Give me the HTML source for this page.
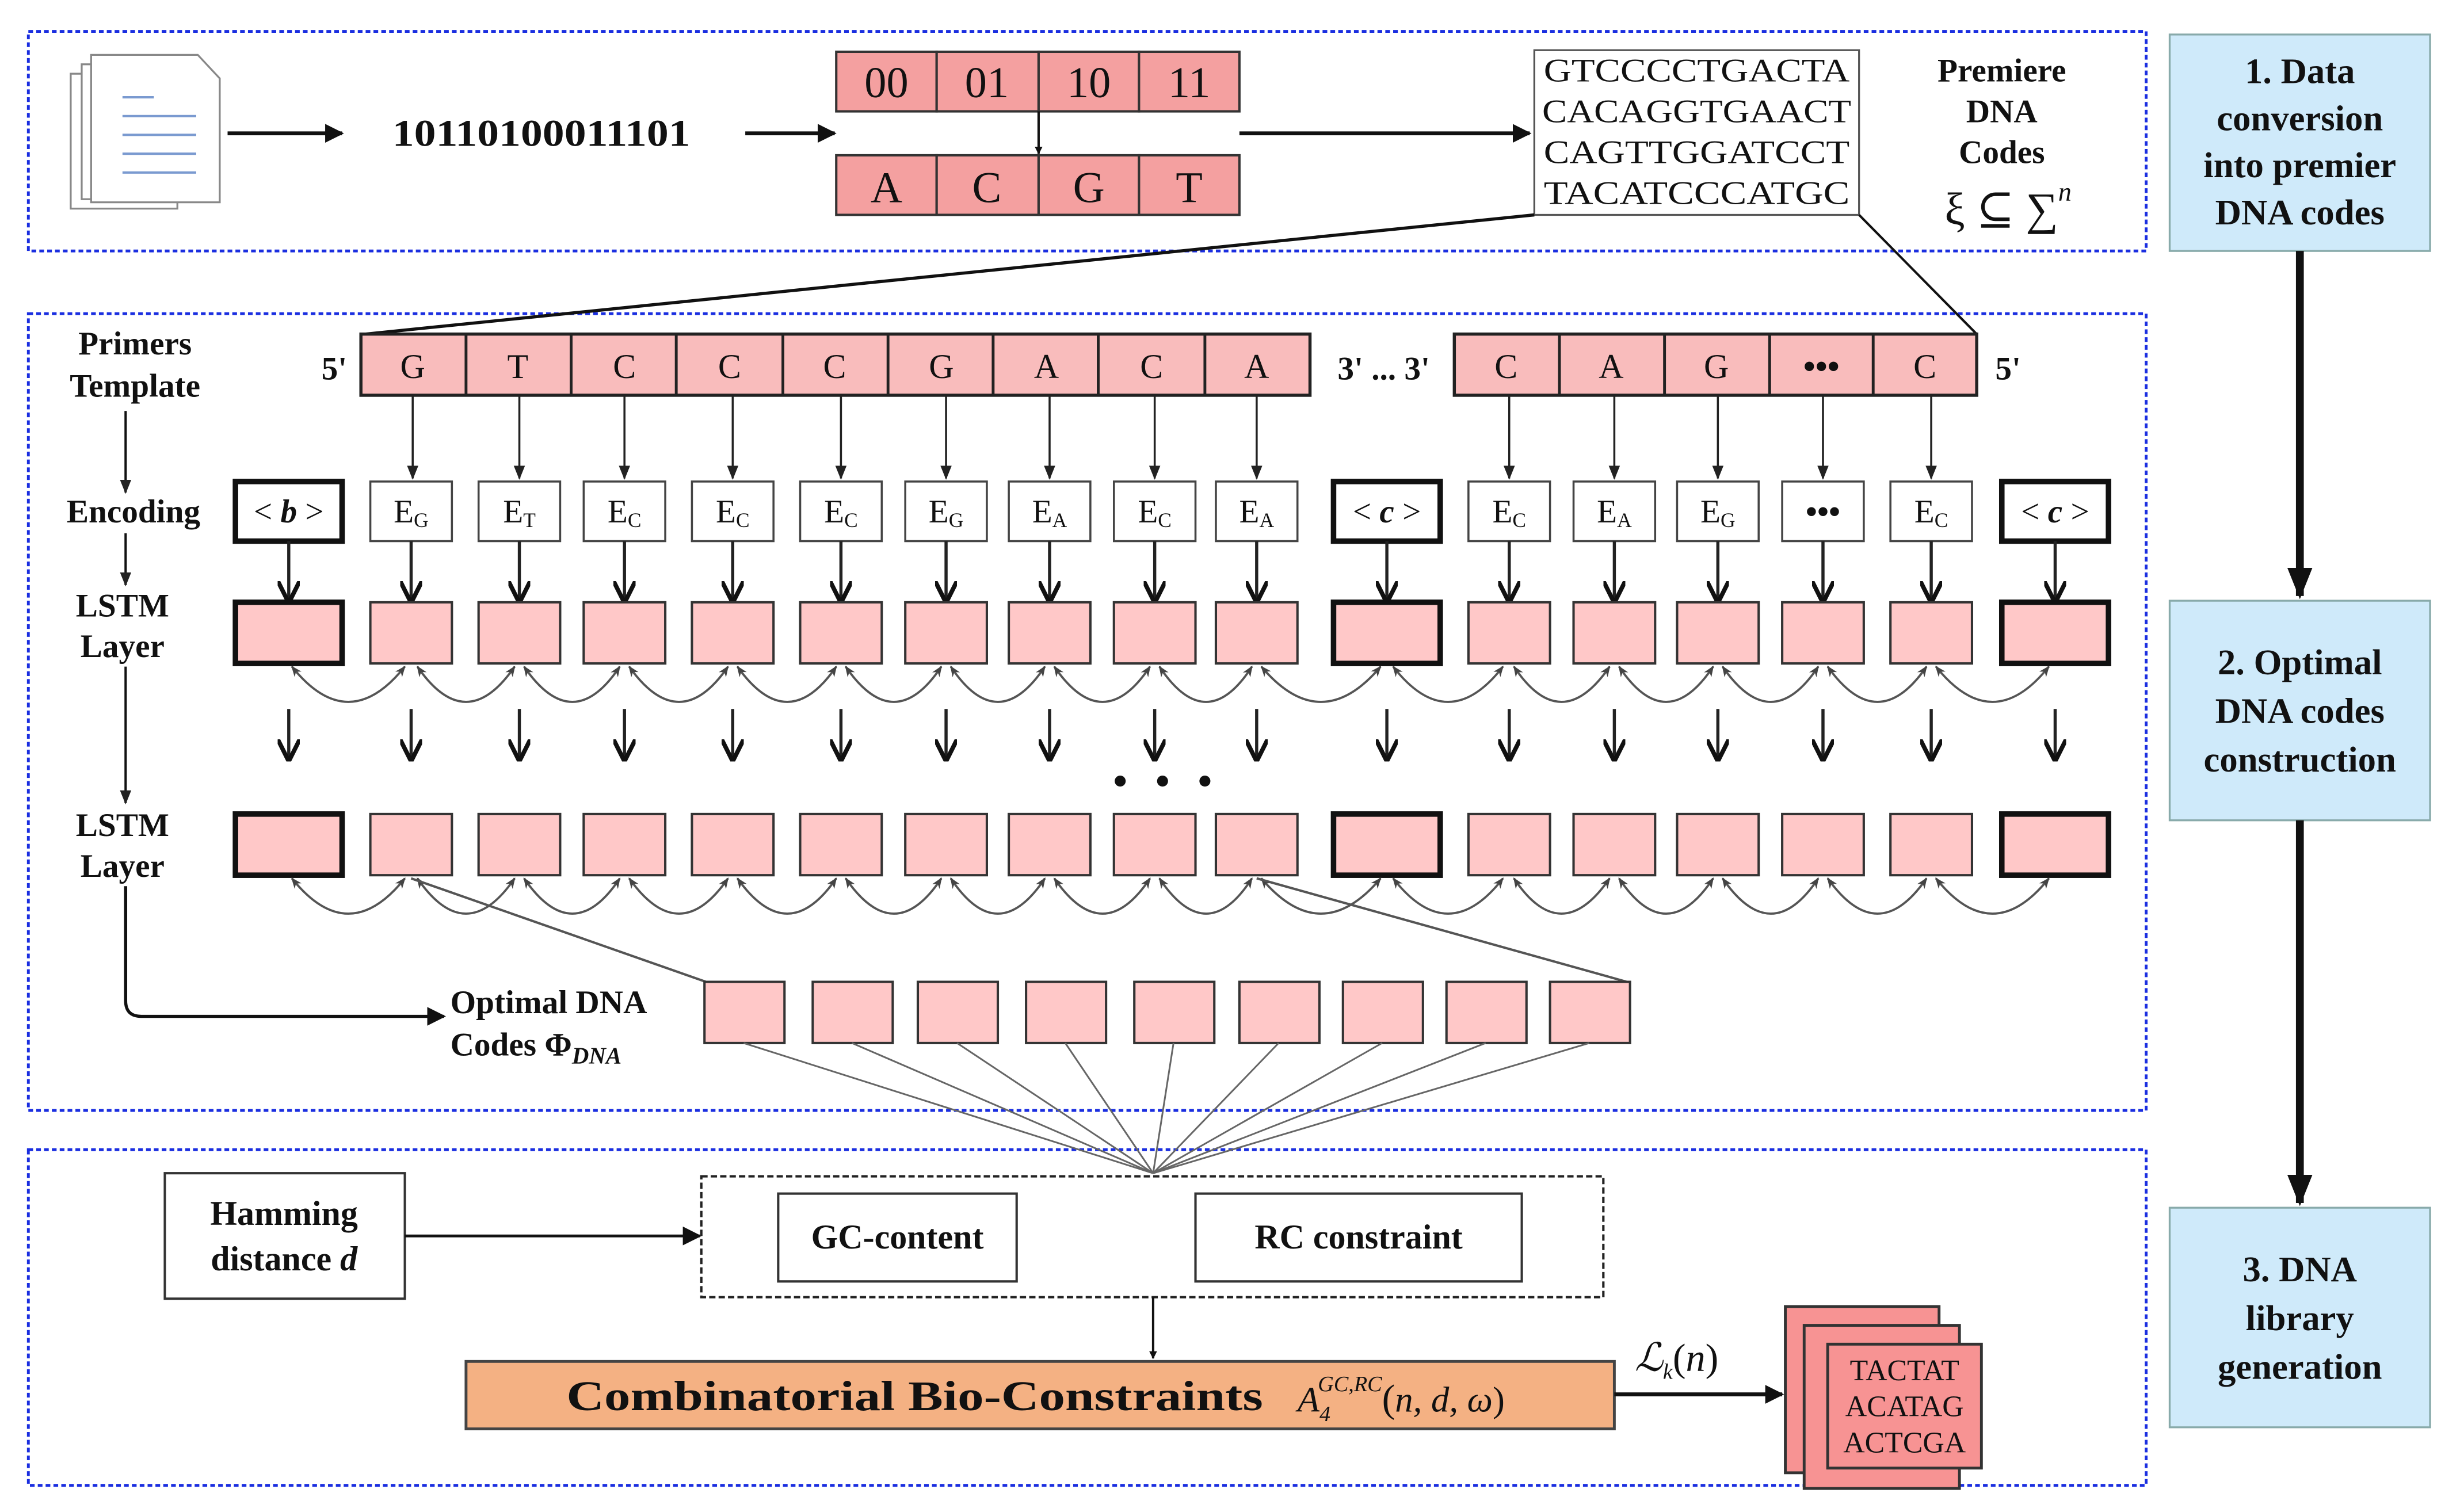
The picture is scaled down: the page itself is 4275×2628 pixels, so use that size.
<!DOCTYPE html>
<html><head><meta charset="utf-8"><style>
html,body{margin:0;padding:0;background:#fff}
svg{display:block}
svg text{font-family:"Liberation Serif","DejaVu Serif",serif;fill:#111}
.b{font-weight:bold}
</style></head><body>
<svg width="4275" height="2628" viewBox="0 0 1568 964" xmlns="http://www.w3.org/2000/svg" font-family="Liberation Serif, DejaVu Serif, serif">
<defs>
<marker id="ah" viewBox="0 0 10 10" refX="9" refY="5" markerWidth="5" markerHeight="5" orient="auto-start-reverse" markerUnits="userSpaceOnUse"><path d="M0,0L10,5L0,10z" fill="#111"/></marker>
<marker id="ahb" viewBox="0 0 10 10" refX="9" refY="5" markerWidth="12" markerHeight="12" orient="auto" markerUnits="userSpaceOnUse"><path d="M0,0L10,5L0,10z" fill="#111"/></marker>
<marker id="ahv" viewBox="0 0 10 10" refX="9" refY="5" markerWidth="9" markerHeight="9" orient="auto" markerUnits="userSpaceOnUse"><path d="M0,1L10,5L0,9z" fill="#222"/></marker>
<marker id="ahc" viewBox="0 0 10 10" refX="9" refY="5" markerWidth="7" markerHeight="7" orient="auto-start-reverse" markerUnits="userSpaceOnUse"><path d="M0,1L10,5L0,9L3,5z" fill="#444"/></marker>
<marker id="ahd" viewBox="0 0 10 10" refX="9" refY="5" markerWidth="14" markerHeight="14" orient="auto" markerUnits="userSpaceOnUse"><path d="M0,0L10,5L0,10" fill="none" stroke="#111" stroke-width="2"/></marker>
<marker id="ahr" viewBox="0 0 10 10" refX="9" refY="5" markerWidth="20" markerHeight="20" orient="auto" markerUnits="userSpaceOnUse"><path d="M0,1L10,5L0,9z" fill="#111"/></marker>
</defs>

<g fill="none" stroke="#1a2ee0" stroke-width="1.8" stroke-dasharray="3,2">
<rect x="18" y="20" width="1350" height="140"/>
<rect x="18" y="200" width="1350" height="508"/>
<rect x="18" y="733" width="1350" height="214"/>
</g>

<g fill="#cfeafa" stroke="#8aa" stroke-width="1.2">
<rect x="1383" y="22" width="166" height="138"/>
<rect x="1383" y="383" width="166" height="140"/>
<rect x="1383" y="770" width="166" height="140"/>
</g>
<g font-size="23" text-anchor="middle">
<text x="1466" y="53" class="b">1. Data</text>
<text x="1466" y="83" class="b">conversion</text>
<text x="1466" y="113" class="b">into premier</text>
<text x="1466" y="143" class="b">DNA codes</text>
<text x="1466" y="430" class="b">2. Optimal</text>
<text x="1466" y="461" class="b">DNA codes</text>
<text x="1466" y="492" class="b">construction</text>
<text x="1466" y="817" class="b">3. DNA</text>
<text x="1466" y="848" class="b">library</text>
<text x="1466" y="879" class="b">generation</text>
</g>
<line x1="1466" y1="160" x2="1466" y2="380" stroke="#111" stroke-width="5" marker-end="url(#ahr)"/>
<line x1="1466" y1="523" x2="1466" y2="767" stroke="#111" stroke-width="5" marker-end="url(#ahr)"/>

<g fill="#fff" stroke="#888" stroke-width="1.2">
<rect x="45" y="47" width="68" height="86"/>
<rect x="52" y="41" width="69" height="86"/>
<path d="M58,35 H126 L140,50 V129 H58 Z"/>
</g>
<g stroke="#7a9ad0" stroke-width="1.5">
<line x1="78" y1="62" x2="98" y2="62"/><line x1="78" y1="74" x2="125" y2="74"/>
<line x1="78" y1="86" x2="125" y2="86"/><line x1="78" y1="98" x2="125" y2="98"/><line x1="78" y1="110" x2="125" y2="110"/>
</g>
<line x1="145" y1="85" x2="218" y2="85" stroke="#111" stroke-width="2.5" marker-end="url(#ahb)"/>
<text x="250" y="93" font-size="24" class="b" textLength="190" lengthAdjust="spacingAndGlyphs">10110100011101</text>
<line x1="475" y1="85" x2="532" y2="85" stroke="#111" stroke-width="2.5" marker-end="url(#ahb)"/>

<g fill="#f4a0a0" stroke="#333" stroke-width="1.5">
<rect x="533" y="33" width="64" height="38"/><rect x="597" y="33" width="65" height="38"/><rect x="662" y="33" width="64" height="38"/><rect x="726" y="33" width="64" height="38"/>
<rect x="533" y="99" width="64" height="38"/><rect x="597" y="99" width="65" height="38"/><rect x="662" y="99" width="64" height="38"/><rect x="726" y="99" width="64" height="38"/>
</g>
<g font-size="28" text-anchor="middle">
<text x="565" y="62">00</text><text x="629" y="62">01</text><text x="694" y="62">10</text><text x="758" y="62">11</text>
<text x="565" y="129">A</text><text x="629" y="129">C</text><text x="694" y="129">G</text><text x="758" y="129">T</text>
</g>
<line x1="662" y1="71" x2="662" y2="98" stroke="#111" stroke-width="1.5" marker-end="url(#ah)"/>
<line x1="790" y1="85" x2="975" y2="85" stroke="#111" stroke-width="2.5" marker-end="url(#ahb)"/>

<rect x="978" y="32" width="207" height="105" fill="#fff" stroke="#555" stroke-width="1.2"/>
<g font-size="21">
<text x="984" y="52" textLength="195" lengthAdjust="spacingAndGlyphs">GTCCCCTGACTA</text>
<text x="983" y="78" textLength="197" lengthAdjust="spacingAndGlyphs">CACAGGTGAACT</text>
<text x="984" y="104" textLength="195" lengthAdjust="spacingAndGlyphs">CAGTTGGATCCT</text>
<text x="984" y="130" textLength="195" lengthAdjust="spacingAndGlyphs">TACATCCCATGC</text>
</g>
<g font-size="21" text-anchor="middle">
<text x="1276" y="52" class="b">Premiere</text>
<text x="1276" y="78" class="b">DNA</text>
<text x="1276" y="104" class="b">Codes</text>
<text x="1280" y="143" font-size="29">ξ ⊆ ∑<tspan font-size="17" dy="-15" font-style="italic">n</tspan></text>
</g>
<line x1="978" y1="137" x2="233" y2="213" stroke="#111" stroke-width="2"/>
<line x1="1185" y1="137" x2="1260" y2="213" stroke="#111" stroke-width="1.5"/>

<text x="86" y="226" font-size="21" class="b" text-anchor="middle">Primers</text>
<text x="86" y="253" font-size="21" class="b" text-anchor="middle">Template</text>
<text x="213" y="242" font-size="21" class="b" text-anchor="middle">5'</text>
<text x="882" y="242" font-size="21" class="b" text-anchor="middle">3' ... 3'</text>
<text x="1280" y="242" font-size="21" class="b" text-anchor="middle">5'</text>

<g fill="#f9bcbc" stroke="#222" stroke-width="2">
<rect x="230" y="213" width="605" height="39"/>
<rect x="927" y="213" width="333" height="39"/>
</g>
<g stroke="#222" stroke-width="1.8">
<line x1="297" y1="213" x2="297" y2="252"/><line x1="364" y1="213" x2="364" y2="252"/><line x1="431" y1="213" x2="431" y2="252"/><line x1="499" y1="213" x2="499" y2="252"/><line x1="566" y1="213" x2="566" y2="252"/><line x1="633" y1="213" x2="633" y2="252"/><line x1="700" y1="213" x2="700" y2="252"/><line x1="768" y1="213" x2="768" y2="252"/>
<line x1="994" y1="213" x2="994" y2="252"/><line x1="1061" y1="213" x2="1061" y2="252"/><line x1="1128" y1="213" x2="1128" y2="252"/><line x1="1194" y1="213" x2="1194" y2="252"/>
</g>
<g font-size="22" text-anchor="middle">
<text x="263" y="241">G</text><text x="330" y="241">T</text><text x="398" y="241">C</text><text x="465" y="241">C</text><text x="532" y="241">C</text><text x="600" y="241">G</text><text x="667" y="241">A</text><text x="734" y="241">C</text><text x="801" y="241">A</text>
<text x="960" y="241">C</text><text x="1027" y="241">A</text><text x="1094" y="241">G</text><text x="1161" y="241" class="b">•••</text><text x="1227" y="241">C</text>
</g>

<g stroke="#222" stroke-width="1.3" marker-end="url(#ahv)">
<line x1="263" y1="252" x2="263" y2="305"/><line x1="331" y1="252" x2="331" y2="305"/><line x1="398" y1="252" x2="398" y2="305"/><line x1="467" y1="252" x2="467" y2="305"/><line x1="536" y1="252" x2="536" y2="305"/><line x1="603" y1="252" x2="603" y2="305"/><line x1="669" y1="252" x2="669" y2="305"/><line x1="736" y1="252" x2="736" y2="305"/><line x1="801" y1="252" x2="801" y2="305"/>
<line x1="962" y1="252" x2="962" y2="305"/><line x1="1029" y1="252" x2="1029" y2="305"/><line x1="1095" y1="252" x2="1095" y2="305"/><line x1="1162" y1="252" x2="1162" y2="305"/><line x1="1231" y1="252" x2="1231" y2="305"/>
</g>

<g fill="#fff" stroke="#111" stroke-width="3.5">
<rect x="150" y="307" width="68" height="38"/><rect x="850" y="307" width="68" height="38"/><rect x="1276" y="307" width="68" height="38"/>
</g>
<g fill="#fff" stroke="#444" stroke-width="1.3">
<rect x="236" y="307" width="52" height="38"/><rect x="305" y="307" width="52" height="38"/><rect x="372" y="307" width="52" height="38"/><rect x="441" y="307" width="52" height="38"/><rect x="510" y="307" width="52" height="38"/><rect x="577" y="307" width="52" height="38"/><rect x="643" y="307" width="52" height="38"/><rect x="710" y="307" width="52" height="38"/><rect x="775" y="307" width="52" height="38"/>
<rect x="936" y="307" width="52" height="38"/><rect x="1003" y="307" width="52" height="38"/><rect x="1069" y="307" width="52" height="38"/><rect x="1136" y="307" width="52" height="38"/><rect x="1205" y="307" width="52" height="38"/>
</g>
<g font-size="21" text-anchor="middle">
<text x="184" y="333">&lt; <tspan font-style="italic" class="b">b</tspan> &gt;</text>
<text x="884" y="333">&lt; <tspan font-style="italic" class="b">c</tspan> &gt;</text>
<text x="1310" y="333">&lt; <tspan font-style="italic" class="b">c</tspan> &gt;</text>
<text x="262" y="333">E<tspan font-size="13" dy="3">G</tspan></text>
<text x="331" y="333">E<tspan font-size="13" dy="3">T</tspan></text>
<text x="398" y="333">E<tspan font-size="13" dy="3">C</tspan></text>
<text x="467" y="333">E<tspan font-size="13" dy="3">C</tspan></text>
<text x="536" y="333">E<tspan font-size="13" dy="3">C</tspan></text>
<text x="603" y="333">E<tspan font-size="13" dy="3">G</tspan></text>
<text x="669" y="333">E<tspan font-size="13" dy="3">A</tspan></text>
<text x="736" y="333">E<tspan font-size="13" dy="3">C</tspan></text>
<text x="801" y="333">E<tspan font-size="13" dy="3">A</tspan></text>
<text x="962" y="333">E<tspan font-size="13" dy="3">C</tspan></text>
<text x="1029" y="333">E<tspan font-size="13" dy="3">A</tspan></text>
<text x="1095" y="333">E<tspan font-size="13" dy="3">G</tspan></text>
<text x="1162" y="333" class="b">•••</text>
<text x="1231" y="333">E<tspan font-size="13" dy="3">C</tspan></text>
</g>
<text x="85" y="333" font-size="21" class="b" text-anchor="middle">Encoding</text>
<text x="78" y="393" font-size="21" class="b" text-anchor="middle">LSTM</text>
<text x="78" y="419" font-size="21" class="b" text-anchor="middle">Layer</text>
<text x="78" y="533" font-size="21" class="b" text-anchor="middle">LSTM</text>
<text x="78" y="559" font-size="21" class="b" text-anchor="middle">Layer</text>
<g stroke="#111" stroke-width="1.5" marker-end="url(#ahv)">
<line x1="80" y1="262" x2="80" y2="314"/>
<line x1="80" y1="340" x2="80" y2="373"/>
<line x1="80" y1="425" x2="80" y2="512"/>
</g>
<path d="M80,565 V638 Q80,648 90,648 H283" fill="none" stroke="#111" stroke-width="2" marker-end="url(#ahb)"/>

<g stroke="#222" stroke-width="2" marker-end="url(#ahd)">
<line x1="184" y1="345" x2="184" y2="383"/><line x1="262" y1="345" x2="262" y2="383"/><line x1="331" y1="345" x2="331" y2="383"/><line x1="398" y1="345" x2="398" y2="383"/><line x1="467" y1="345" x2="467" y2="383"/><line x1="536" y1="345" x2="536" y2="383"/><line x1="603" y1="345" x2="603" y2="383"/><line x1="669" y1="345" x2="669" y2="383"/><line x1="736" y1="345" x2="736" y2="383"/><line x1="801" y1="345" x2="801" y2="383"/><line x1="884" y1="345" x2="884" y2="383"/><line x1="962" y1="345" x2="962" y2="383"/><line x1="1029" y1="345" x2="1029" y2="383"/><line x1="1095" y1="345" x2="1095" y2="383"/><line x1="1162" y1="345" x2="1162" y2="383"/><line x1="1231" y1="345" x2="1231" y2="383"/><line x1="1310" y1="345" x2="1310" y2="383"/>
</g>
<g stroke="#222" stroke-width="2" marker-end="url(#ahd)">
<line x1="184" y1="452" x2="184" y2="484"/><line x1="262" y1="452" x2="262" y2="484"/><line x1="331" y1="452" x2="331" y2="484"/><line x1="398" y1="452" x2="398" y2="484"/><line x1="467" y1="452" x2="467" y2="484"/><line x1="536" y1="452" x2="536" y2="484"/><line x1="603" y1="452" x2="603" y2="484"/><line x1="669" y1="452" x2="669" y2="484"/><line x1="736" y1="452" x2="736" y2="484"/><line x1="801" y1="452" x2="801" y2="484"/><line x1="884" y1="452" x2="884" y2="484"/><line x1="962" y1="452" x2="962" y2="484"/><line x1="1029" y1="452" x2="1029" y2="484"/><line x1="1095" y1="452" x2="1095" y2="484"/><line x1="1162" y1="452" x2="1162" y2="484"/><line x1="1231" y1="452" x2="1231" y2="484"/><line x1="1310" y1="452" x2="1310" y2="484"/>
</g>
<g fill="#111"><circle cx="714" cy="498" r="3.5"/><circle cx="741" cy="498" r="3.5"/><circle cx="768" cy="498" r="3.5"/></g>

<g>
<g fill="#ffc8c8" stroke="#111" stroke-width="3.5">
<rect x="150" y="384" width="68" height="39"/><rect x="850" y="384" width="68" height="39"/><rect x="1276" y="384" width="68" height="39"/>
</g>
<g fill="#ffc8c8" stroke="#333" stroke-width="1.5">
<rect x="236" y="384" width="52" height="39"/><rect x="305" y="384" width="52" height="39"/><rect x="372" y="384" width="52" height="39"/><rect x="441" y="384" width="52" height="39"/><rect x="510" y="384" width="52" height="39"/><rect x="577" y="384" width="52" height="39"/><rect x="643" y="384" width="52" height="39"/><rect x="710" y="384" width="52" height="39"/><rect x="775" y="384" width="52" height="39"/>
<rect x="936" y="384" width="52" height="39"/><rect x="1003" y="384" width="52" height="39"/><rect x="1069" y="384" width="52" height="39"/><rect x="1136" y="384" width="52" height="39"/><rect x="1205" y="384" width="52" height="39"/>
</g>
<g fill="none" stroke="#555" stroke-width="1.4" marker-start="url(#ahc)" marker-end="url(#ahc)">
<path d="M186,425 Q222,470 258,425"/><path d="M266,425 Q297,470 328,425"/><path d="M334,425 Q365,470 395,425"/><path d="M401,425 Q433,470 464,425"/><path d="M470,425 Q502,470 533,425"/><path d="M539,425 Q570,470 600,425"/><path d="M606,425 Q636,470 666,425"/><path d="M672,425 Q703,470 733,425"/><path d="M739,425 Q769,470 798,425"/><path d="M804,425 Q842,470 880,425"/><path d="M888,425 Q923,470 958,425"/><path d="M965,425 Q995,470 1026,425"/><path d="M1032,425 Q1062,470 1092,425"/><path d="M1098,425 Q1129,470 1159,425"/><path d="M1165,425 Q1197,470 1228,425"/><path d="M1234,425 Q1270,470 1306,425"/>
</g>
</g>
<g transform="translate(0,135)">
<g fill="#ffc8c8" stroke="#111" stroke-width="3.5">
<rect x="150" y="384" width="68" height="39"/><rect x="850" y="384" width="68" height="39"/><rect x="1276" y="384" width="68" height="39"/>
</g>
<g fill="#ffc8c8" stroke="#333" stroke-width="1.5">
<rect x="236" y="384" width="52" height="39"/><rect x="305" y="384" width="52" height="39"/><rect x="372" y="384" width="52" height="39"/><rect x="441" y="384" width="52" height="39"/><rect x="510" y="384" width="52" height="39"/><rect x="577" y="384" width="52" height="39"/><rect x="643" y="384" width="52" height="39"/><rect x="710" y="384" width="52" height="39"/><rect x="775" y="384" width="52" height="39"/>
<rect x="936" y="384" width="52" height="39"/><rect x="1003" y="384" width="52" height="39"/><rect x="1069" y="384" width="52" height="39"/><rect x="1136" y="384" width="52" height="39"/><rect x="1205" y="384" width="52" height="39"/>
</g>
<g fill="none" stroke="#555" stroke-width="1.4" marker-start="url(#ahc)" marker-end="url(#ahc)">
<path d="M186,425 Q222,470 258,425"/><path d="M266,425 Q297,470 328,425"/><path d="M334,425 Q365,470 395,425"/><path d="M401,425 Q433,470 464,425"/><path d="M470,425 Q502,470 533,425"/><path d="M539,425 Q570,470 600,425"/><path d="M606,425 Q636,470 666,425"/><path d="M672,425 Q703,470 733,425"/><path d="M739,425 Q769,470 798,425"/><path d="M804,425 Q842,470 880,425"/><path d="M888,425 Q923,470 958,425"/><path d="M965,425 Q995,470 1026,425"/><path d="M1032,425 Q1062,470 1092,425"/><path d="M1098,425 Q1129,470 1159,425"/><path d="M1165,425 Q1197,470 1228,425"/><path d="M1234,425 Q1270,470 1306,425"/>
</g>
</g>

<g stroke="#555" stroke-width="1.5">
<line x1="262" y1="560" x2="450" y2="626"/>
<line x1="801" y1="560" x2="1037" y2="626"/>
</g>
<g fill="#ffc8c8" stroke="#333" stroke-width="1.5">
<rect x="449" y="626" width="51" height="39"/><rect x="518" y="626" width="51" height="39"/><rect x="585" y="626" width="51" height="39"/><rect x="654" y="626" width="51" height="39"/><rect x="723" y="626" width="51" height="39"/><rect x="790" y="626" width="51" height="39"/><rect x="856" y="626" width="51" height="39"/><rect x="922" y="626" width="51" height="39"/><rect x="988" y="626" width="51" height="39"/>
</g>
<g stroke="#666" stroke-width="1.1">
<line x1="474" y1="665" x2="735" y2="748"/><line x1="543" y1="665" x2="735" y2="748"/><line x1="610" y1="665" x2="735" y2="748"/><line x1="679" y1="665" x2="735" y2="748"/><line x1="748" y1="665" x2="735" y2="748"/><line x1="815" y1="665" x2="735" y2="748"/><line x1="881" y1="665" x2="735" y2="748"/><line x1="947" y1="665" x2="735" y2="748"/><line x1="1013" y1="665" x2="735" y2="748"/>
</g>
<text x="287" y="646" font-size="21" class="b">Optimal DNA</text>
<text x="287" y="673" font-size="21" class="b">Codes  Φ<tspan font-size="15" dy="5" font-style="italic">DNA</tspan></text>

<rect x="105" y="748" width="153" height="80" fill="#fff" stroke="#333" stroke-width="1.5"/>
<text x="181" y="781" font-size="22" class="b" text-anchor="middle">Hamming</text>
<text x="181" y="810" font-size="22" class="b" text-anchor="middle">distance <tspan font-style="italic">d</tspan></text>
<line x1="258" y1="788" x2="446" y2="788" stroke="#111" stroke-width="1.8" marker-end="url(#ahb)"/>
<rect x="447" y="750" width="575" height="77" fill="none" stroke="#222" stroke-width="1.5" stroke-dasharray="4,2"/>
<rect x="496" y="761" width="152" height="56" fill="#fff" stroke="#333" stroke-width="1.5"/>
<rect x="762" y="761" width="208" height="56" fill="#fff" stroke="#333" stroke-width="1.5"/>
<text x="572" y="796" font-size="22" class="b" text-anchor="middle">GC-content</text>
<text x="866" y="796" font-size="22" class="b" text-anchor="middle">RC constraint</text>
<line x1="735" y1="827" x2="735" y2="866" stroke="#111" stroke-width="1.5" marker-end="url(#ah)"/>
<rect x="297" y="868" width="732" height="43" fill="#f4b183" stroke="#444" stroke-width="1.8"/>
<text x="361" y="899" font-size="27" class="b" textLength="444" lengthAdjust="spacingAndGlyphs">Combinatorial Bio-Constraints</text>
<text x="827" y="900" font-size="23" font-style="italic">A<tspan font-size="14" dy="6">4</tspan><tspan font-size="14" dx="-8" dy="-19">GC,RC</tspan><tspan font-size="25" font-style="normal" dy="13">(</tspan>n, d, ω<tspan font-style="normal">)</tspan></text>
<line x1="1029" y1="889" x2="1136" y2="889" stroke="#111" stroke-width="2.5" marker-end="url(#ahb)"/>
<text x="1042" y="874" font-size="25" font-style="italic">ℒ<tspan font-size="14" dy="5">k</tspan><tspan dy="-5" font-style="normal">(</tspan>n<tspan font-style="normal">)</tspan></text>
<g fill="#f79393" stroke="#333" stroke-width="1.8">
<rect x="1138" y="833" width="98" height="106"/>
<rect x="1150" y="845" width="99" height="104"/>
<rect x="1165" y="857" width="98" height="79"/>
</g>
<g font-size="19" text-anchor="middle">
<text x="1214" y="880">TACTAT</text>
<text x="1214" y="903">ACATAG</text>
<text x="1214" y="926">ACTCGA</text>
</g>
</svg>
</body></html>
